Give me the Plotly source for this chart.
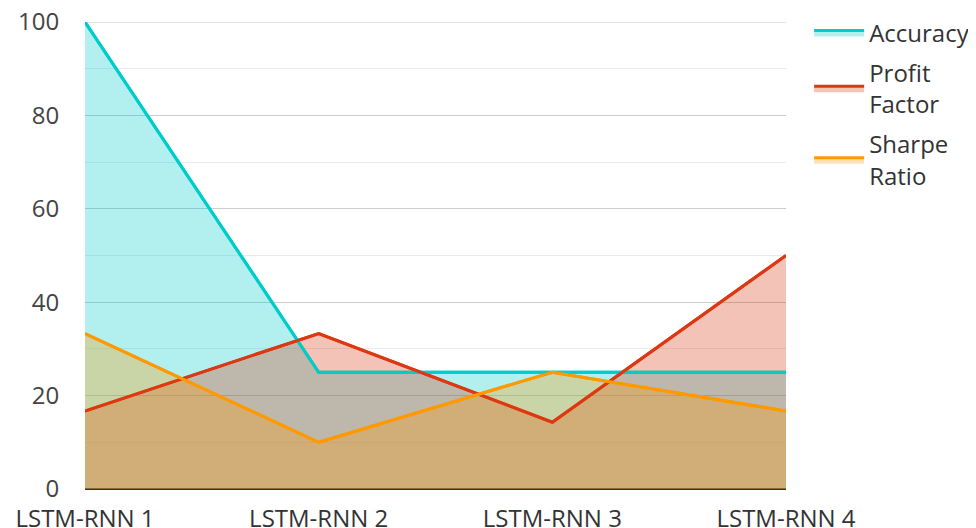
import plotly.graph_objects as go

categories = ["LSTM-RNN 1", "LSTM-RNN 2", "LSTM-RNN 3", "LSTM-RNN 4"]
accuracy = [100, 25, 25, 25]
profit_factor = [16.7, 33.3, 14.3, 50]
sharpe_ratio = [33.3, 10, 25, 16.7]

series = [
    ("Accuracy", accuracy, "#00cccc", "rgba(0,204,204,0.3)"),
    ("Profit<br>Factor", profit_factor, "#dc3912", "rgba(220,57,18,0.3)"),
    ("Sharpe<br>Ratio", sharpe_ratio, "#ff9900", "rgba(255,153,0,0.3)"),
]

xs = list(range(len(categories)))
fig = go.Figure()
# filled areas (with legend)
for i, (name, vals, col, fillcol) in enumerate(series):
    fig.add_trace(go.Scatter(
        x=xs, y=vals, name=name, mode="lines", legendgroup=f"g{i}",
        line=dict(color=col, width=3),
        fill="tozeroy", fillcolor=fillcol, hoverinfo="skip",
    ))
# lines drawn on top of all fills
for i, (name, vals, col, fillcol) in enumerate(series):
    fig.add_trace(go.Scatter(
        x=xs, y=vals, name=name, mode="lines", legendgroup=f"g{i}",
        line=dict(color=col, width=3), showlegend=False,
    ))

# top gridline (plotly drops gridlines at the very end of the axis)
fig.add_hline(y=100, line=dict(color="#cccccc", width=1), layer="below")

# the page body has an 8px margin, so the figure is laid out 8px up/left
fig.update_layout(
    width=976, height=528,
    margin=dict(l=77, r=198, t=14, b=47, autoexpand=False),
    paper_bgcolor="white", plot_bgcolor="white",
    font=dict(family="Open Sans", size=24, color="#444"),
    showlegend=True,
    legend=dict(x=1.033, y=1.025, xanchor="left", yanchor="top",
                font=dict(size=24, color="#333"), itemwidth=50,
                tracegroupgap=6, bgcolor="rgba(0,0,0,0)"),
    xaxis=dict(
        range=[0, 3], tickmode="array", tickvals=xs, ticktext=categories,
        showgrid=False, zeroline=False, showline=False,
        ticks="outside", ticklen=8, tickcolor="rgba(0,0,0,0)",
        tickfont=dict(size=24, color="#333"), automargin=False,
        ticklabeloverflow="allow",
    ),
    yaxis=dict(
        range=[0, 100], tickmode="array", tickvals=[0, 20, 40, 60, 80, 100],
        showgrid=True, gridcolor="#cccccc", gridwidth=1,
        zeroline=True, zerolinecolor="#333333", zerolinewidth=2,
        showline=False, ticks="outside", ticklen=20, tickcolor="rgba(0,0,0,0)",
        tickfont=dict(size=24, color="#444"), automargin=False,
        ticklabeloverflow="allow",
        minor=dict(tickmode="array", tickvals=[10, 30, 50, 70, 90],
                   showgrid=True, gridcolor="#ebebeb", gridwidth=1),
    ),
)

fig.write_html("out.html")
